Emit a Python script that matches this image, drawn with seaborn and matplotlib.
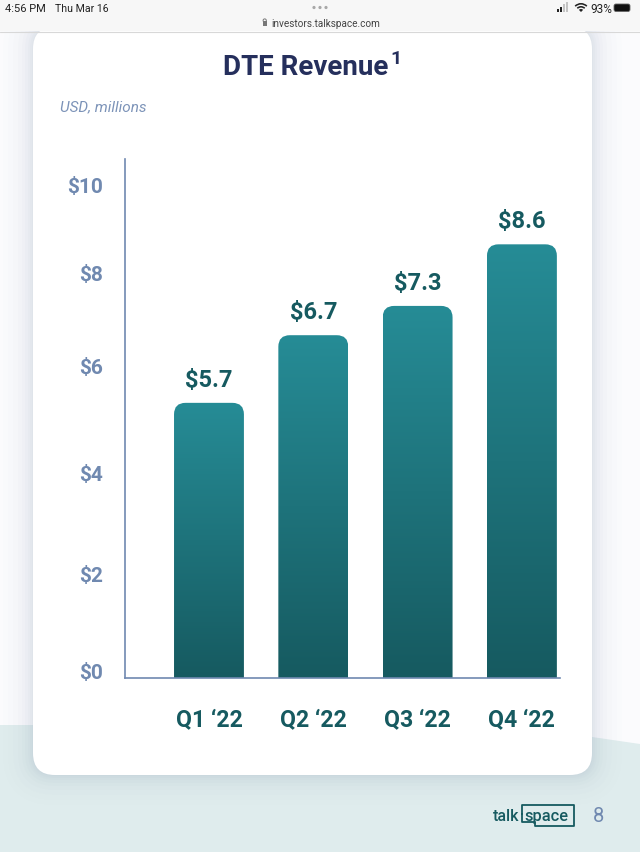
import numpy as np
import matplotlib
matplotlib.use("Agg")
import matplotlib.pyplot as plt
import seaborn as sns
from matplotlib.colors import LinearSegmentedColormap
from matplotlib.patches import FancyBboxPatch, Polygon, Rectangle, Circle, Wedge

# Values. The drawn bars are not quite in proportion to their labels
quarters = ["Q1 \u201822", "Q2 \u201822", "Q3 \u201822", "Q4 \u201822"]
bar_heights = [5.45, 6.79, 7.37, 8.59]
bar_labels = ["$5.7", "$6.7", "$7.3", "$8.6"]

# the y tick labels on the slide are unevenly spaced too
ytick_pos = [0.14, 2.06, 4.08, 6.18, 8.04, 9.78]
ytick_labels = ["$0", "$2", "$4", "$6", "$8", "$10"]

TEAL_DARK = "#165a60"
TEAL_TOP = "#268c96"
SLATE = "#7089b0"
NAVY = "#252f5c"

sns.set_theme(style="white")
plt.rcParams["font.family"] = ["Roboto", "DejaVu Sans"]

fig = plt.figure(figsize=(6.4, 8.53), dpi=100)

# Background layer in pixel coordinates
bg = fig.add_axes([0, 0, 1, 1])
bg.set_xlim(0, 640)
bg.set_ylim(853, 0)
bg.axis("off")
bg.add_patch(Rectangle((0, 0), 640, 853, fc="#fbfbfd", ec="none"))
bg.add_patch(Polygon([(0, 726), (300, 726), (592, 738), (640, 745), (640, 853), (0, 853)],
                     fc="#dfeced", ec="none"))

# soft shadow round the card
card_top = 28
card_h = 776 - card_top
for grow, a in zip([30, 25, 20, 15, 11, 8, 5, 3, 1], [0.01, 0.015, 0.02, 0.03, 0.035, 0.04, 0.045, 0.05, 0.05]):
    bg.add_patch(FancyBboxPatch((33 - grow, card_top - grow), 559 + 2 * grow, card_h + 2 * grow,
                                boxstyle=f"round,pad=0,rounding_size={22 + grow}",
                                fc="#9fb0c4", ec="none", alpha=a))
bg.add_patch(FancyBboxPatch((33, card_top), 559, card_h, boxstyle="round,pad=0,rounding_size=22",
                            fc="white", ec="none"))

# browser bar
bg.add_patch(Rectangle((0, 0), 640, 32, fc="#f7f7f7", ec="none"))
bg.plot([0, 640], [32.5, 32.5], color="#d8d8d8", lw=0.8)
bg.text(5, 9, "4:56 PM", fontsize=8, color="#222222", va="center")
bg.text(55, 9, "Thu Mar 16", fontsize=7.6, color="#222222", va="center")
for dot_x in [314, 320, 326]:
    bg.add_patch(Circle((dot_x, 8.5), 1.6, fc="#a8a8a8", ec="none"))
bg.text(271, 23.5, "investors.talkspace.com", fontsize=7.2, color="#444444", va="center")
bg.add_patch(Rectangle((262.5, 22), 4.5, 5, fc="#777777", ec="none"))
bg.add_patch(Circle((264.7, 21.5), 1.6, fc="none", ec="#777777", lw=0.7))
# signal, wifi, battery
for i, (sx, sh) in enumerate(zip([558, 561, 564, 567], [3, 5, 8, 10])):
    bg.add_patch(Rectangle((sx - 1, 13 - sh), 2, sh, fc="#222222" if i < 2 else "#c4c4c4", ec="none"))
for r, w in [(9, 1.6), (6, 1.6), (3, 3)]:
    bg.add_patch(Wedge((581, 13), r, 225, 315, width=w, fc="#222222", ec="none"))
bg.text(590, 9, "93%", fontsize=8.5, color="#222222", va="center")
bg.add_patch(FancyBboxPatch((614, 5), 16, 7.5, boxstyle="round,pad=0,rounding_size=2",
                            fc="#111111", ec="#666666", lw=0.6))

# logo and page number
bg.text(493, 816.5, "talk", fontsize=11.5, fontweight="medium", color=TEAL_DARK, va="center")
bg.text(524.5, 817, "space", fontsize=11.8, fontweight="medium", color=TEAL_DARK, va="center")
bg.plot([522, 522, 574, 574, 535, 535, 522, 522], [815, 806, 806, 827, 827, 823, 823, 815],
        color=TEAL_DARK, lw=1.3)
bg.text(599, 817, "8", fontsize=14.5, color=SLATE, va="center", ha="center")

# title and unit
bg.text(223, 67, "DTE Revenue", fontsize=20, fontweight="bold", color=NAVY, va="center")
bg.text(390.5, 59, "1", fontsize=14, fontweight="bold", color=NAVY, va="center")
bg.text(60, 107, "USD, millions", fontsize=11, style="italic", color="#7c93b8", va="center")

# Chart layer, x pixels 125-560 and y pixels 160-679
ax = fig.add_axes([125 / 640, (853 - 679) / 853, 435 / 640, 519 / 853], facecolor="none")
sns.barplot(x=quarters, y=bar_heights, ax=ax, width=0.67, color=TEAL_TOP)

cmap = LinearSegmentedColormap.from_list("bar_fade", [TEAL_DARK, TEAL_TOP])
gradient = np.linspace(1, 0, 256).reshape(-1, 1)
# 1 px is 1/104.3 of a category and 1/50.5 of a y unit
y_per_x = 104.3 / 50.5

for bar, label in zip(list(ax.patches), bar_labels):
    x0, w, h = bar.get_x(), bar.get_width(), bar.get_height()
    bar.set_visible(False)
    # box starts under the axis so only the top corners show as rounded
    shape = FancyBboxPatch((x0, -1), w, h + 1, boxstyle="round,pad=0,rounding_size=0.11",
                           mutation_aspect=y_per_x, fc="none", ec="none")
    ax.add_patch(shape)
    img = ax.imshow(gradient, extent=[x0, x0 + w, 0, h], aspect="auto", cmap=cmap, zorder=2)
    img.set_clip_path(shape)
    ax.annotate(label, (x0 + w / 2, h), xytext=(0, 17), textcoords="offset points",
                ha="center", va="center", fontsize=17, fontweight="bold", color=TEAL_DARK)

ax.set_xlim(-0.805, 3.365)
ax.set_ylim(0, 10.28)
ax.set_yticks(ytick_pos)
ax.set_yticklabels(ytick_labels)
ax.tick_params(axis="y", length=0, pad=16, labelsize=15, labelcolor=SLATE)
ax.tick_params(axis="x", length=0, pad=22, labelsize=16.7, labelcolor=TEAL_DARK)
for t in ax.get_xticklabels() + ax.get_yticklabels():
    t.set_fontweight("bold")
sns.despine(ax=ax)
for side in ["left", "bottom"]:
    ax.spines[side].set_color(SLATE)
    ax.spines[side].set_linewidth(1.2)

fig.savefig("out.png", dpi=100)
